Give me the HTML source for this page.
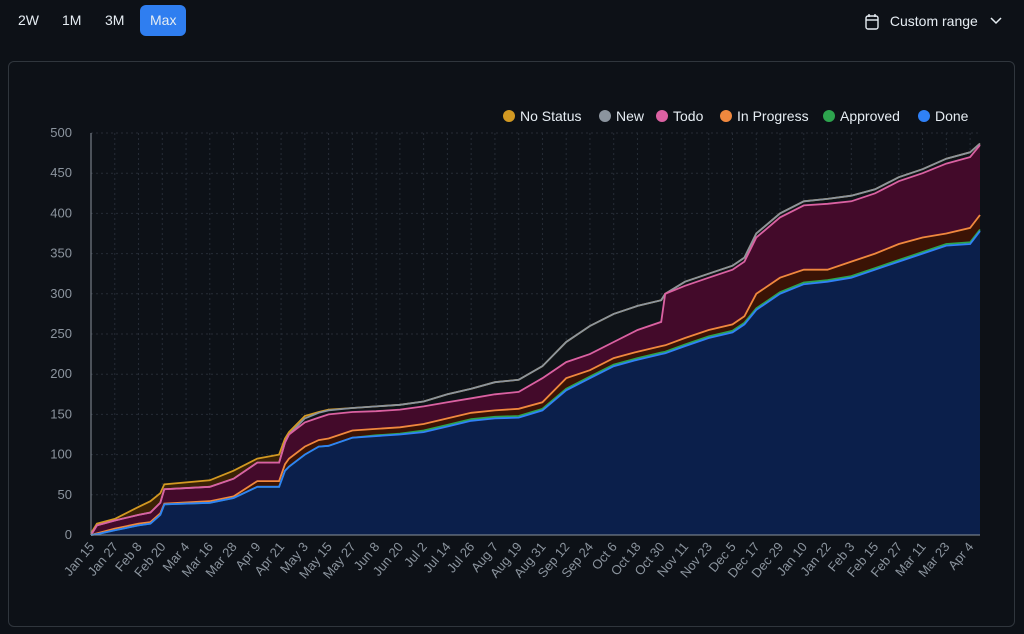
<!DOCTYPE html>
<html><head><meta charset="utf-8"><style>
body{margin:0;background:#0d1117;width:1024px;height:634px;overflow:hidden;font-family:"Liberation Sans",sans-serif;color:#e6edf3;position:relative}
.btn{position:absolute;top:5px;height:31px;line-height:31px;font-size:14px;color:#e6edf3;padding:0 10px;border-radius:6px}
#card{position:absolute;left:8px;top:61px;width:1007px;height:566px;border:1px solid #30363d;border-radius:6px;box-sizing:border-box}
svg{position:absolute;left:0;top:0}
</style></head><body>
<div class="btn" style="left:8px">2W</div>
<div class="btn" style="left:52px">1M</div>
<div class="btn" style="left:95px">3M</div>
<div class="btn" style="left:140px;background:#2f7ef0;padding:0 10px">Max</div>
<div style="position:absolute;left:864px;top:10px;height:22px;font-size:14px;line-height:22px;">
<svg width="16" height="18" style="position:relative;display:inline-block;vertical-align:middle" viewBox="0 0 16 18"><rect x="2" y="3" width="12" height="13" rx="2" fill="none" stroke="#e6edf3" stroke-width="1.4"/><line x1="2" y1="7" x2="14" y2="7" stroke="#e6edf3" stroke-width="1.4"/><line x1="5" y1="1" x2="5" y2="4" stroke="#e6edf3" stroke-width="1.4"/><line x1="11" y1="1" x2="11" y2="4" stroke="#e6edf3" stroke-width="1.4"/></svg>
<span style="margin-left:6px">Custom range</span>
<svg width="12" height="10" style="position:relative;display:inline-block;margin-left:8px" viewBox="0 0 12 10"><path d="M1 2 L6 7 L11 2" fill="none" stroke="#e6edf3" stroke-width="1.5"/></svg>
</div>
<div id="card"></div>
<svg id="chart" width="1024" height="634"></svg>
<script>
const dates=[0,3,12,24,30,35,37,60,72,84,95,98,100,108,115,120,132,144,156,168,180,192,204,216,228,240,252,264,276,288,290,300,312,324,330,336,348,360,372,384,396,408,420,432,444,449];
// stacked cumulative tops per series
const done=[0,1,6,12,14,25,38,40,46,60,60,80,85,100,110,111,121,123,125,128,135,142,145,146,155,180,195,210,218,225,226,235,245,252,262,280,300,312,315,320,330,340,350,360,362,378];
const approved=[0,1,6,12,14,25,38,40,46,60,60,80,85,100,110,111,121,124,126,130,137,144,147,148,157,182,197,212,220,227,228,237,247,254,264,282,302,314,317,322,332,342,352,362,364,380];
const inProgress=[0,2,8,14,16,27,39,42,48,67,67,88,95,110,118,120,130,132,134,138,145,152,155,157,165,195,205,220,228,235,236,245,255,262,272,300,320,330,330,340,350,362,370,375,382,398];
const todo=[0,12,18,25,28,40,57,60,70,90,90,115,125,140,146,150,153,154,156,160,165,170,175,178,195,215,225,240,255,265,300,310,320,330,340,370,395,410,412,415,425,440,450,462,470,485];
const newS=[0,12,18,25,28,40,57,60,70,90,90,115,125,145,152,155,158,160,162,166,175,182,190,193,210,240,260,275,285,292,300,315,325,335,345,375,400,415,418,422,430,445,455,468,476,487];
const noStatus=[2,14,20,35,42,52,63,68,80,95,100,120,128,148,153,156,158,160,162,166,175,182,190,193,210,240,260,275,285,292,300,315,325,335,345,375,400,415,418,422,430,445,455,468,476,487];
const yTicks=[0,50,100,150,200,250,300,350,400,450,500];
const xLabels=["Jan 15","Jan 27","Feb 8","Feb 20","Mar 4","Mar 16","Mar 28","Apr 9","Apr 21","May 3","May 15","May 27","Jun 8","Jun 20","Jul 2","Jul 14","Jul 26","Aug 7","Aug 19","Aug 31","Sep 12","Sep 24","Oct 6","Oct 18","Oct 30","Nov 11","Nov 23","Dec 5","Dec 17","Dec 29","Jan 10","Jan 22","Feb 3","Feb 15","Feb 27","Mar 11","Mar 23","Apr 4"];
const legendNames=["No Status","New","Todo","In Progress","Approved","Done"];

const X0=91,X1=980,Y0=535,Y1=133,maxDay=449;
const xs=d=>X0+d*(X1-X0)/maxDay;
const ys=v=>Y0-v*(Y0-Y1)/500;
const svg=document.getElementById('chart');
const NS='http://www.w3.org/2000/svg';
function mk(tag,attrs,parent){const e=document.createElementNS(NS,tag);for(const k in attrs)e.setAttribute(k,attrs[k]);(parent||svg).appendChild(e);return e;}

yTicks.forEach(v=>{
  const l=mk('line',{x1:X0,x2:X1,y1:ys(v),y2:ys(v),stroke:'#262c36','stroke-dasharray':'2,3'});
  
  
  const t=mk('text',{x:72,y:ys(v)+4,'text-anchor':'end',fill:'#8b949e','font-size':13,'font-family':'Liberation Sans, sans-serif'});
  t.textContent=v;
  
  
});
xLabels.forEach((s,i)=>{
  const x=xs(i*12);
  const l=mk('line',{x1:x,x2:x,y1:Y1,y2:Y0,stroke:'#262c36','stroke-dasharray':'2,3'});
  
  
  const t=mk('text',{x:x+4,y:Y0+12,'text-anchor':'end',fill:'#8b949e','font-size':13,'font-family':'Liberation Sans, sans-serif',transform:`rotate(-50 ${x+4} ${Y0+12})`});
  t.textContent=s;
  
  
});

const series=[
 {name:'done',top:done,bot:null,fill:'#0b1f4b',stroke:'#2f81f7'},
 {name:'approved',top:approved,bot:done,fill:'#0f3a1f',stroke:'#2da44e'},
 {name:'in-progress',top:inProgress,bot:approved,fill:'#3b1305',stroke:'#f0883e'},
 {name:'todo',top:todo,bot:inProgress,fill:'#430a2a',stroke:'#db61a2'},
 {name:'new',top:newS,bot:todo,fill:'#0f1318',stroke:'#8b949e'},
 {name:'no-status',top:noStatus,bot:newS,fill:'#3a2206',stroke:'#d29922'}
];
function pts(arr){return dates.map((d,i)=>xs(d).toFixed(1)+','+ys(arr[i]).toFixed(1));}
series.forEach(s=>{
  const top=pts(s.top);
  const bot=s.bot?pts(s.bot).reverse():[xs(dates[dates.length-1])+','+Y0,xs(0)+','+Y0];
  const a=mk('polygon',{points:top.concat(bot).join(' '),fill:s.fill});
  
  
});
series.slice().reverse().forEach(s=>{
  const l=mk('polyline',{points:pts(s.top).join(' '),fill:'none',stroke:s.stroke,'stroke-width':1.8});
  
  
});
const ax=mk('line',{x1:X0,x2:X0,y1:Y1,y2:Y0,stroke:'#8b949e'});


const bx=mk('line',{x1:X0,x2:X1,y1:Y0,y2:Y0,stroke:'#8b949e'});



const legColors=['#d29922','#8b949e','#db61a2','#f0883e','#2da44e','#2f81f7'];
const legX=[509,605,662,726,829,924];
legendNames.forEach((n,i)=>{
  const g=mk('g',{});
  
  
  mk('circle',{cx:legX[i],cy:116,r:6,fill:legColors[i]},g);
  const t=mk('text',{x:legX[i]+11,y:121,fill:'#e6edf3','font-size':14,'font-family':'Liberation Sans, sans-serif'},g);
  t.textContent=n;
});
</script>
</body></html>
